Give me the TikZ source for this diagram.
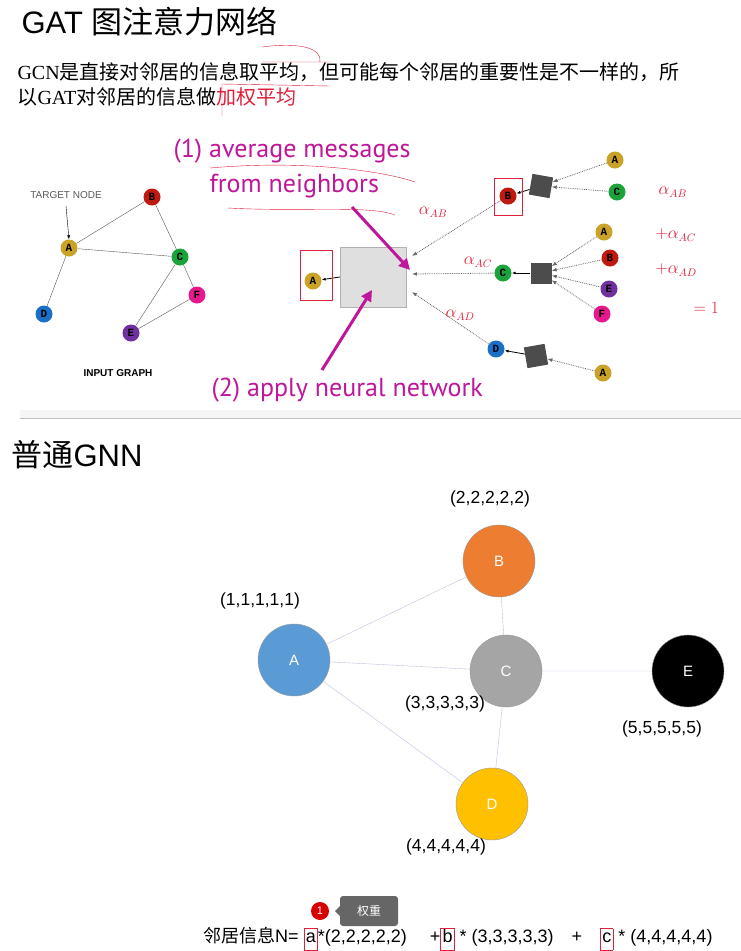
\documentclass[tikz,border=0pt]{standalone}
\usepackage{fontspec}
\setmainfont{Liberation Sans}
\newfontfamily\cjk{Noto Sans CJK SC}
\newfontfamily\serifz{Liberation Serif}
\newfontfamily\ptsans{PT Sans}
\newfontfamily\monoz{Liberation Mono}
\usetikzlibrary{arrows.meta}
\definecolor{cA}{HTML}{C9A227}\definecolor{cB}{HTML}{C0190F}\definecolor{cC}{HTML}{1AA33A}
\definecolor{cD}{HTML}{1A6FC7}\definecolor{cE}{HTML}{7030A0}\definecolor{cF}{HTML}{E6198C}
\definecolor{mag}{HTML}{C0169A}\definecolor{hand}{HTML}{E0203A}
\definecolor{gA}{HTML}{5B9BD5}\definecolor{gB}{HTML}{ED7D31}\definecolor{gC}{HTML}{A5A5A5}\definecolor{gD}{HTML}{FFC000}
\newcommand{\rbx}[1]{{\fboxsep=1.5pt\fboxrule=0.6pt\fcolorbox{hand}{white}{\strut #1}}}
\begin{document}
\begin{tikzpicture}[x=1pt,y=-1pt,
 sn/.style={circle,minimum size=17pt,inner sep=0pt,font=\monoz\bfseries\fontsize{11}{11}\selectfont},
 box/.style={fill=black!70,minimum size=21pt,inner sep=0pt},
 dot/.style={densely dotted,gray!80!black,thick,-{Latex[length=5pt]}},
 bk/.style={-{Latex[length=4pt]},thick},
 big/.style={circle,minimum size=72pt,inner sep=0pt,draw=black!40,font=\fontsize{15}{15}\selectfont,text=white},
 ge/.style={draw=gray!60!blue!35,thin},
 lab/.style={font=\fontsize{17.5}{17.5}\selectfont},
 hw/.style={hand,font=\itshape\fontsize{16}{16}\selectfont},
 mg/.style={mag,font=\ptsans\fontsize{26}{26}\selectfont}]
\useasboundingbox (0,0) rectangle (741,951);
\fill[white] (0,0) rectangle (741,951);
\node[anchor=west,font=\fontsize{31}{31}\selectfont] (t1) at (18,22) {GAT {\cjk 图注意力网络}};
\node[anchor=west,font=\fontsize{20}{20}\selectfont] (p1) at (14,72) {{\serifz GCN}{\cjk 是直接对邻居的信息取平均，但可能每个邻居的重要性是不一样的，所}};
\node[anchor=west,font=\fontsize{20}{20}\selectfont] (p2) at (14,97) {{\cjk 以}{\serifz GAT}{\cjk 对邻居的信息做}{\cjk\color{hand}加权平均}};
\draw[hand] (262,62) -- (330,62) (262,47) .. controls (300,42) and (322,48) .. (320,62);
\draw[hand] (222,84) -- (330,86) (222,84) -- (222,116);
% image region
\fill[gray!8] (20,410) rectangle (741,418);
\draw[gray!50] (20,418) -- (741,418);
% left graph
\node[sn,fill=cA] (A) at (69,248) {A};
\node[sn,fill=cB] (B) at (152,197) {B};
\node[sn,fill=cC] (C) at (180,257) {C};
\node[sn,fill=cF] (F) at (197,295) {F};
\node[sn,fill=cE] (E) at (131,333) {E};
\node[sn,fill=cD] (D) at (44,314) {D};
\draw[gray!70!black] (A)--(B) (A)--(C) (A)--(D) (B)--(C) (C)--(E) (C)--(F) (E)--(F);
\node[font=\fontsize{10}{10}\selectfont,text=gray!70!black] (tn) at (66,195) {TARGET NODE};
\draw[-{Latex[length=4pt]}] (tn.south) ++(0,4) -- (A.north);
\node[font=\bfseries\fontsize{10}{10}\selectfont] (ig) at (118,373) {INPUT GRAPH};
% middle
\node[draw=gray!60,fill=gray!25,minimum width=66pt,minimum height=60pt] (nn) at (373,277) {};
\node[sn,fill=cA] (A0) at (313,281) {A};
\draw[bk] (nn.west) -- (A0);
\node[sn,fill=cB] (B1) at (508,196) {B};
\node[box,rotate=-10] (k1) at (541,186) {};
\node[sn,fill=cA] (a1) at (615,160) {A};
\node[sn,fill=cC] (c1) at (617,192) {C};
\draw[dot] (a1)--(k1); \draw[dot] (c1)--(k1); \draw[bk] (k1)--(B1);
\node[sn,fill=cC] (C2) at (503,273) {C};
\node[box] (k2) at (541,273) {};
\node[sn,fill=cA] (a2) at (604,232) {A};
\node[sn,fill=cB] (b2) at (610,258) {B};
\node[sn,fill=cE] (e2) at (609,289) {E};
\node[sn,fill=cF] (f2) at (602,314) {F};
\foreach \n in {a2,b2,e2,f2} \draw[dot] (\n)--(k2);
\draw[bk] (k2)--(C2);
\node[sn,fill=cD] (D3) at (496,349) {D};
\node[box,rotate=10] (k3) at (536,356) {};
\node[sn,fill=cA] (a3) at (603,373) {A};
\draw[dot] (a3)--(k3); \draw[bk] (k3)--(D3);
\coordinate (i1) at (412,256); \coordinate (i2) at (412,274); \coordinate (i3) at (412,292);
\draw[dot] (B1)--(i1); \draw[dot] (C2)--(i2); \draw[dot] (D3)--(i3);
% magenta
\node[mg,anchor=west] (m1) at (170,151) {(1) average messages};
\node[mg,anchor=west] (m2) at (206,186) {from neighbors};
\node[mg,anchor=west] (m3) at (208,390) {(2) apply neural network};
\coordinate (s1) at (352,207); \coordinate (e1) at (410,270);
\coordinate (s2) at (322,370); \coordinate (e2x) at (372,290);
\draw[mag,line width=3pt,-{Triangle[length=11pt,width=11pt]}] (s1)--(e1);
\draw[mag,line width=3pt,-{Triangle[length=11pt,width=11pt]}] (s2)--(e2x);
% handwriting
\draw[hand] (210,168) .. controls (300,160) and (380,170) .. (415,182);
\draw[hand] (228,208) .. controls (300,212) and (370,205) .. (395,215);
\draw[hand] (300,250) rectangle (332,300);
\draw[hand] (494,178) rectangle (522,215);
\node[hw] (h1) at (433,212) {$\alpha_{AB}$};
\node[hw] (h2) at (478,262) {$\alpha_{AC}$};
\node[hw] (h3) at (460,315) {$\alpha_{AD}$};
\node[hw,anchor=west] (h4) at (655,192) {$\alpha_{AB}$};
\node[hw,anchor=west] (h5) at (652,235) {$+\alpha_{AC}$};
\node[hw,anchor=west] (h6) at (652,270) {$+\alpha_{AD}$};
\node[hw,anchor=west] (h7) at (690,308) {$=1$};
% lower part
\node[anchor=west,font=\fontsize{31}{31}\selectfont] (t2) at (8,455) {{\cjk 普通}GNN};
\node[big,fill=gA] (GA) at (294,660) {A};
\node[big,fill=gB] (GB) at (499,561) {B};
\node[big,fill=gC] (GC) at (506,671) {C};
\node[big,fill=black] (GE) at (688,671) {E};
\node[big,fill=gD] (GD) at (492,804) {D};
\draw[ge] (GA)--(GB) (GA)--(GC) (GA)--(GD) (GB)--(GC) (GC)--(GE) (GC)--(GD);
\node[lab] (l1) at (260,601) {(1,1,1,1,1)};
\node[lab] (l2) at (490,499) {(2,2,2,2,2)};
\node[lab] (l3) at (445,704) {(3,3,3,3,3)};
\node[lab] (l5) at (662,729) {(5,5,5,5,5)};
\node[lab] (l4) at (446,847) {(4,4,4,4,4)};
\node[circle,fill=red!85!black,text=white,inner sep=0pt,minimum size=18pt,font=\fontsize{11}{11}\selectfont] (r1) at (320,911) {1};
\node[fill=black!60,rounded corners=3pt,text=white,minimum width=58pt,minimum height=30pt,font=\cjk\fontsize{12}{12}\selectfont] (tip) at (369,911) {权重};
\fill[black!60] (340,906) -- (335,911) -- (340,916) -- cycle;
\node[anchor=west,font=\fontsize{18}{18}\selectfont,inner sep=0pt] (f) at (203,939) {{\cjk 邻居信息}N= \rbx{a}*(2,2,2,2,2)\quad\ +\rbx{b} * (3,3,3,3,3)\quad+\quad\rbx{c} * (4,4,4,4,4)};
\end{tikzpicture}
\end{document}
